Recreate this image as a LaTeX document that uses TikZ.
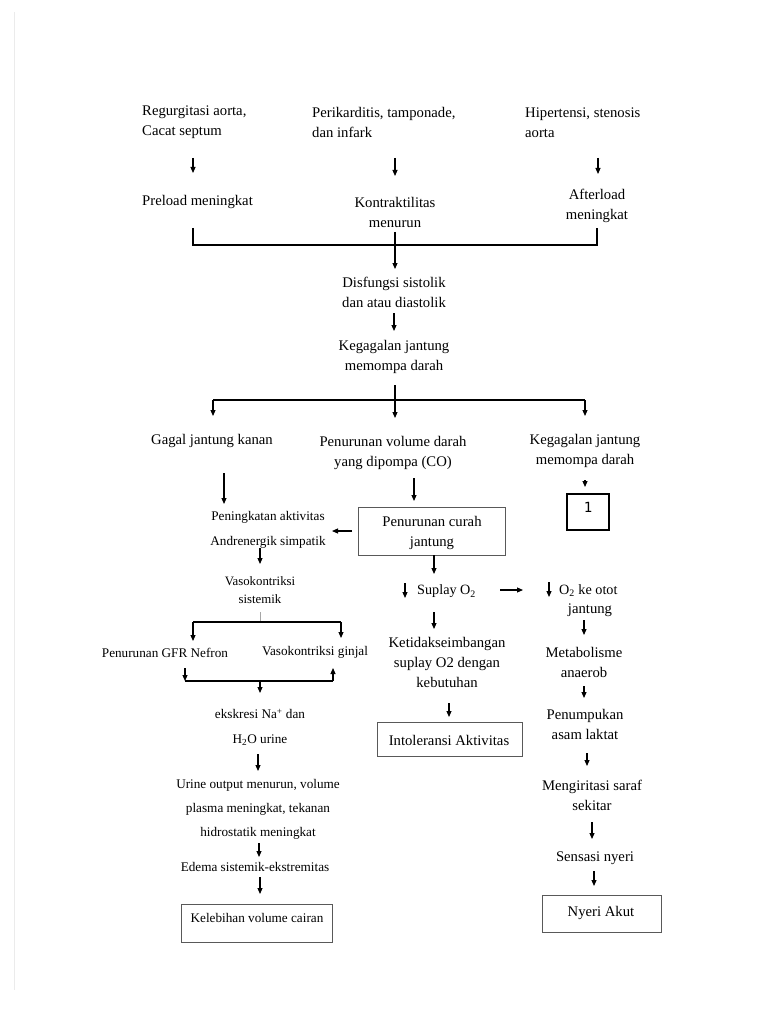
\documentclass[tikz,border=0pt]{standalone}
\usepackage{fontspec}
\setmainfont{Liberation Serif}
\newfontfamily\monofont{DejaVu Sans Mono}
\usetikzlibrary{arrows.meta}
\tikzset{
  arr/.style={draw=black, line width=1.1pt, -{Triangle[length=6pt,width=5pt]}},
  ln/.style={draw=black, line width=1.1pt},
  big/.style={inner sep=0pt, yshift=-1.5pt, align=center, font=\fontsize{14.7}{20}\selectfont},
  bigl/.style={inner sep=0pt, yshift=-1.5pt, align=left, anchor=west, font=\fontsize{14.7}{20}\selectfont},
  small/.style={inner sep=0pt, yshift=-1.5pt, align=center, font=\fontsize{13.2}{25}\selectfont},
  boxed/.style={draw=black!65, line width=0.9pt, inner sep=0pt},
}
\begin{document}
\begin{tikzpicture}[x=1pt,y=-1pt]
\useasboundingbox (0,0) rectangle (768,1024);
\draw[black!8, line width=1pt] (14,12) -- (14,990);

% top row
\node[bigl] (t1) at (142,121) {Regurgitasi aorta,\\Cacat septum};
\node[bigl] (t2) at (312,121) {Perikarditis, tamponade,\\dan infark};
\node[bigl] (t3) at (525,121) {Hipertensi, stenosis\\aorta};
\coordinate (t1a) at (193,158); \coordinate (t1b) at (193,173);
\coordinate (t2a) at (395,158); \coordinate (t2b) at (395,176);
\coordinate (t3a) at (598,158); \coordinate (t3b) at (598,174);
\draw[arr] (t1a) -- (t1b);
\draw[arr] (t2a) -- (t2b);
\draw[arr] (t3a) -- (t3b);

% second row
\node[bigl] (p1) at (142,200) {Preload meningkat};
\node[big] (p2) at (395,211) {Kontraktilitas\\menurun};
\node[big] (p3) at (597,204) {Afterload\\meningkat};
\coordinate (b1) at (193,228); \coordinate (b1d) at (193,245);
\coordinate (b3) at (597,228); \coordinate (b3d) at (597,245);
\coordinate (b2) at (395,232); \coordinate (b2d) at (395,269);
\draw[ln] (b1) -- (b1d) -- (b3d) -- (b3);
\draw[arr] (b2) -- (b2d);

\node[big] (ds) at (394,291) {Disfungsi sistolik\\dan atau diastolik};
\coordinate (ds1) at (394,313); \coordinate (ds2) at (394,331);
\draw[arr] (ds1) -- (ds2);
\node[big] (kg) at (394,355) {Kegagalan jantung\\memompa darah};

\coordinate (k0) at (395,385); \coordinate (k1) at (395,418);
\coordinate (kl) at (213,400); \coordinate (kl2) at (213,416);
\coordinate (kr) at (585,400); \coordinate (kr2) at (585,416);
\draw[arr] (k0) -- (k1);
\draw[ln] (kl) -- (kr);
\draw[arr] (kl) -- (kl2);
\draw[arr] (kr) -- (kr2);

% third row
\node[big] (gj) at (212,439) {Gagal jantung kanan};
\node[big] (pv) at (393,451) {Penurunan volume darah\\yang dipompa (CO)};
\node[big] (kg2) at (585,449) {Kegagalan jantung\\memompa darah};

\coordinate (g1) at (224,473); \coordinate (g2) at (224,504);
\draw[arr] (g1) -- (g2);
\coordinate (v1) at (414,478); \coordinate (v2) at (414,501);
\draw[arr] (v1) -- (v2);
\coordinate (r1) at (585,480); \coordinate (r2) at (585,487);
\draw[arr] (r1) -- (r2);

\node[boxed, draw=black, line width=1.1pt, minimum width=42pt, minimum height=36pt] (one) at (588,512) {};
\node[inner sep=0pt, font=\monofont\fontsize{14}{15}\selectfont] (onet) at (588,507) {1};

\node[boxed, minimum width=147pt, minimum height=48pt] (pc) at (431.5,531) {};
\node[big] (pct) at (432,531) {Penurunan curah\\jantung};

\node[small] (pa) at (268,528) {Peningkatan aktivitas\\Andrenergik simpatik};
\coordinate (la1) at (352,531); \coordinate (la2) at (332,531);
\draw[arr] (la1) -- (la2);

\coordinate (c1) at (434,555); \coordinate (c2) at (434,574);
\draw[arr] (c1) -- (c2);

\coordinate (pa1) at (260,548); \coordinate (pa2) at (260,564);
\draw[arr] (pa1) -- (pa2);
\node[inner sep=0pt, yshift=-1.5pt, align=center, font=\fontsize{12.8}{18}\selectfont] (vs) at (260,589) {Vasokontriksi\\sistemik};

% suplay row
\coordinate (s1) at (405,583); \coordinate (s2) at (405,598);
\draw[arr] (s1) -- (s2);
\node[inner sep=0pt, yshift=-1.5pt, anchor=west, font=\fontsize{14.2}{16}\selectfont] (sp) at (417,590) {Suplay O\textsubscript{2}};
\coordinate (h1) at (500,590); \coordinate (h2) at (523,590);
\draw[arr] (h1) -- (h2);
\coordinate (o1) at (549,582); \coordinate (o2) at (549,597);
\draw[arr] (o1) -- (o2);
\node[inner sep=0pt, yshift=-1.5pt, anchor=west, font=\fontsize{14.2}{16}\selectfont] (ot) at (559,589) {O\textsubscript{2} ke otot};
\node[big] (jt) at (590,609) {jantung};

% left bracket
\coordinate (vb0) at (260,612); \coordinate (vb1) at (260,622);
\coordinate (vbl) at (193,622); \coordinate (vbl2) at (193,641);
\coordinate (vbr) at (341,622); \coordinate (vbr2) at (341,638);
\draw[black!35, line width=0.8pt] (vb0) -- (vb1);
\draw[ln] (vbl) -- (vbr);
\draw[arr] (vbl) -- (vbl2);
\draw[arr] (vbr) -- (vbr2);

\node[small] (gfr) at (165,651) {Penurunan GFR Nefron};
\node[small] (vg) at (315,651) {Vasokontriksi ginjal};

\coordinate (e1) at (185,668); \coordinate (e1d) at (185,681);
\coordinate (e2) at (333,668); \coordinate (e2d) at (333,681);
\coordinate (em) at (260,681); \coordinate (em2) at (260,693);
\draw[arr] (e1) -- (e1d);
\draw[ln] (e1d) -- (e2d);
\draw[arr] (e2d) -- (e2);
\draw[arr] (em) -- (em2);

\node[small] (ek) at (260,726) {ekskresi Na\textsuperscript{+} dan\\H\textsubscript{2}O urine};
\coordinate (u1) at (258,754); \coordinate (u2) at (258,771);
\draw[arr] (u1) -- (u2);
\node[inner sep=0pt, yshift=-1.5pt, align=center, font=\fontsize{13.2}{24}\selectfont] (uo) at (258,808) {Urine output menurun, volume\\plasma meningkat, tekanan\\hidrostatik meningkat};
\coordinate (u3) at (259,843); \coordinate (u4) at (259,857);
\draw[arr] (u3) -- (u4);
\node[small] (ed) at (255,865) {Edema sistemik-ekstremitas};
\coordinate (u5) at (260,877); \coordinate (u6) at (260,894);
\draw[arr] (u5) -- (u6);
\node[boxed, minimum width=151pt, minimum height=38pt] (kv) at (256.5,923) {};
\node[small] (kvt) at (257,916) {Kelebihan volume cairan};

% center column
\coordinate (m1) at (434,612); \coordinate (m2) at (434,629);
\draw[arr] (m1) -- (m2);
\node[big] (kt) at (447,661) {Ketidakseimbangan\\suplay O2 dengan\\kebutuhan};
\coordinate (m3) at (449,703); \coordinate (m4) at (449,717);
\draw[arr] (m3) -- (m4);
\node[boxed, minimum width=145pt, minimum height=34pt] (ia) at (449.5,739) {};
\node[big] (iat) at (449,739) {Intoleransi Aktivitas};

% right column
\coordinate (n1) at (584,620); \coordinate (n2) at (584,635);
\draw[arr] (n1) -- (n2);
\node[big] (mt) at (584,661) {Metabolisme\\anaerob};
\coordinate (n3) at (584,686); \coordinate (n4) at (584,698);
\draw[arr] (n3) -- (n4);
\node[big] (pn) at (585,723) {Penumpukan\\asam laktat};
\coordinate (n5) at (587,753); \coordinate (n6) at (587,766);
\draw[arr] (n5) -- (n6);
\node[big] (mg) at (592,794) {Mengiritasi saraf\\sekitar};
\coordinate (n7) at (592,822); \coordinate (n8) at (592,839);
\draw[arr] (n7) -- (n8);
\node[big] (sn) at (595,857) {Sensasi nyeri};
\coordinate (n9) at (594,871); \coordinate (n10) at (594,886);
\draw[arr] (n9) -- (n10);
\node[boxed, minimum width=119pt, minimum height=37pt] (na) at (601.5,913.5) {};
\node[big] (nat) at (601,911) {Nyeri Akut};
\end{tikzpicture}
\end{document}
